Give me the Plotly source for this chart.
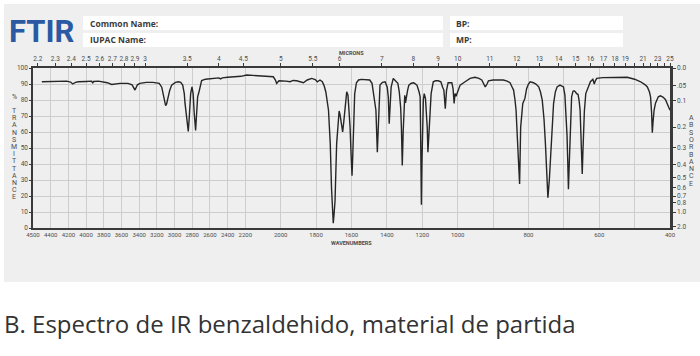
import numpy as np
import plotly.graph_objects as go

# ---------------- data ----------------
WAVENUMBER = [4500, 4400, 4300, 4219, 4175, 4151, 4120, 4088, 4000, 3937, 3925, 3915, 3860, 3809, 3760, 3711, 3660, 3617,
              3526, 3480, 3447, 3420, 3391, 3320, 3244, 3173, 3145, 3128, 3110, 3101, 3090, 3080, 3071, 3055, 3033, 2990,
              2958, 2930, 2908, 2890, 2882, 2868, 2855, 2845, 2835, 2818, 2803, 2790, 2778, 2762, 2750, 2739, 2724, 2710,
              2694, 2650, 2563, 2500, 2480, 2460, 2400, 2337, 2250, 2192, 2100, 2042, 2030, 2023, 2010, 1994, 1970, 1947,
              1930, 1910, 1890, 1872, 1850, 1825, 1805, 1793, 1778, 1765, 1755, 1745, 1730, 1720, 1713, 1706, 1703, 1699,
              1693, 1684, 1675, 1670, 1665, 1658, 1650, 1644, 1638, 1632, 1627, 1620, 1614, 1608, 1602, 1597, 1593, 1588,
              1582, 1572, 1560, 1544, 1520, 1497, 1484, 1470, 1462, 1454, 1448, 1444, 1439, 1425, 1410, 1398, 1392, 1387,
              1382, 1376, 1364, 1355, 1350, 1338, 1330, 1322, 1318, 1313, 1308, 1303, 1299, 1295, 1290, 1283, 1276, 1262,
              1248, 1230, 1218, 1212, 1210, 1207, 1205, 1202, 1198, 1194, 1189, 1182, 1176, 1172, 1168, 1164, 1160, 1150,
              1138, 1125, 1110, 1095, 1085, 1078, 1070, 1063, 1054, 1040, 1033, 1026, 1020, 1015, 1009, 1002, 993, 979,
              965, 951, 940, 932, 927, 922, 917, 913, 900, 880, 871, 860, 852, 846, 842, 838, 835, 831, 828, 825, 822, 816,
              810, 805, 800, 795, 786, 778, 771, 766, 761, 756, 752, 748, 745, 741, 738, 733, 729, 724, 719, 711, 701, 697,
              694, 691, 689, 687, 685, 683, 680, 678, 674, 671, 667, 664, 660, 657, 654, 651, 648, 646, 645, 642, 638, 632,
              625, 618, 616, 614, 611, 607, 590, 568, 540, 521, 500, 483, 470, 464, 458, 455, 452, 450, 448, 445, 441, 438,
              433, 427, 420, 413, 406, 400]
TRANSMITTANCE = [91.4, 91.6, 91.8, 91.8, 91.2, 90.0, 91.0, 91.4, 91.6, 91.8, 90.5, 91.6, 91.8, 91.4, 90.8, 89.7, 90.2, 90.4,
                 90.4, 89.5, 86.2, 89.5, 90.4, 91.0, 91.0, 90.4, 88.0, 84.1, 79.0, 76.5, 77.5, 80.5, 81.0, 86.0, 89.3, 91.0,
                 91.4, 91.0, 89.3, 84.0, 78.0, 72.0, 63.0, 60.4, 68.0, 84.0, 88.2, 84.0, 72.0, 61.0, 72.0, 82.0, 85.0, 89.0,
                 92.1, 93.0, 93.5, 93.8, 93.2, 93.8, 94.2, 94.5, 94.8, 95.6, 95.0, 94.5, 92.5, 90.4, 92.0, 92.0, 91.8, 91.4,
                 92.2, 92.0, 91.5, 90.8, 92.5, 93.5, 92.8, 91.4, 92.5, 91.5, 89.0, 85.0, 73.6, 52.6, 25.0, 8.0, 3.0, 8.0,
                 17.0, 52.6, 71.5, 73.1, 71.0, 65.0, 60.0, 66.0, 75.0, 83.0, 85.1, 83.0, 75.0, 63.0, 45.0, 32.7, 45.0, 70.0,
                 84.0, 90.8, 92.5, 92.9, 92.8, 92.5, 90.4, 80.0, 73.6, 47.4, 70.0, 82.0, 89.3, 91.0, 91.4, 88.0, 82.0, 65.2,
                 80.0, 88.0, 93.5, 92.5, 91.4, 90.4, 85.1, 75.0, 63.0, 39.0, 60.0, 73.6, 83.0, 78.2, 82.0, 86.0, 89.3, 90.5,
                 90.8, 89.3, 85.0, 82.0, 65.0, 42.0, 14.5, 40.0, 65.0, 80.0, 84.0, 81.0, 70.0, 63.0, 47.4, 58.0, 67.3, 84.0,
                 91.4, 92.0, 92.0, 91.4, 88.0, 86.2, 74.6, 86.0, 90.8, 91.0, 90.8, 87.0, 77.8, 84.0, 82.4, 84.5, 89.3, 91.4,
                 93.5, 94.2, 93.5, 92.5, 90.0, 88.2, 90.0, 92.0, 92.5, 92.5, 92.5, 91.8, 90.8, 88.0, 86.2, 80.0, 73.6, 55.0,
                 38.0, 27.5, 63.0, 77.8, 81.0, 87.2, 90.0, 91.4, 90.8, 89.8, 88.2, 85.0, 79.9, 68.0, 52.6, 33.0, 19.0, 30.0,
                 42.0, 62.0, 77.8, 85.0, 88.2, 89.3, 88.2, 83.0, 73.6, 58.0, 42.0, 24.3, 38.0, 52.6, 70.0, 82.0, 85.5, 85.8,
                 85.0, 84.0, 83.6, 80.0, 73.6, 55.0, 33.8, 48.0, 59.0, 73.0, 84.0, 88.0, 91.4, 92.9, 91.5, 90.0, 92.0, 93.5,
                 94.0, 94.2, 94.2, 94.2, 93.0, 91.4, 89.5, 88.2, 85.0, 82.0, 72.0, 59.5, 66.0, 73.6, 78.0, 80.0, 82.0, 82.6,
                 81.8, 80.3, 77.0, 73.6]

# bottom wavenumber labels (first label sits on the left frame edge, as printed on the form)
WN_TICK_POS = [4600, 4400, 4200, 4000, 3800, 3600, 3400, 3200, 3000, 2800, 2600, 2400, 2200,
               2000, 1800, 1600, 1400, 1200, 1000, 900, 800, 700, 600, 500, 400]
WN_TICK_TEXT = ["4500", "4400", "4200", "4000", "3800", "3600", "3400", "3200", "3000", "2800", "2600", "2400", "2200",
                "2000", "1800", "1600", "1400", "1200", "1000", "", "800", "", "600", "", "400"]
MICRON_TICKS = [2.2, 2.3, 2.4, 2.5, 2.6, 2.7, 2.8, 2.9, 3, 3.5, 4, 4.5, 5, 5.5, 6, 7, 8, 9, 10, 11, 12, 13, 14,
                15, 16, 17, 18, 19, 20, 21, 22, 23, 24, 25]
MICRON_TEXT = ["2.2", "2.3", "2.4", "2.5", "2.6", "2.7", "2.8", "2.9", "3", "3.5", "4", "4.5", "5", "5.5", "6", "7", "8",
               "9", "10", "11", "12", "13", "14", "15", "16", "17", "18", "19", "", "21", "", "23", "", "25"]
ABS_TICKS = [0.0, 0.05, 0.1, 0.2, 0.3, 0.4, 0.5, 0.6, 0.7, 0.8, 1.0, 2.0]
ABS_TEXT = ["0.0", ".05", "0.1", "0.2", "0.3", "0.4", "0.5", "0.6", "0.7", "0.8", "1.0", "2.0"]
T_TICKS = list(range(0, 101, 10))


# piecewise-linear wavenumber scale of the FTIR form (3 equal-width segments)
def wn_scale(w):
    w = np.asarray(w, dtype=float)
    return np.where(w >= 2200, (4600 - w) / 2400,
                    np.where(w >= 1000, 1 + (2200 - w) / 1200, 2 + (1000 - w) / 600))


# ---------------- geometry helpers (pixel -> paper) ----------------
W, H = 700, 356
L, R, T, B = 33, 30, 68, 128
PW, PH = W - L - R, H - T - B


def px(x):
    return (x - L) / PW


def py(y):
    return (H - B - y) / PH


GREY_BG = "#efefef"
GRID = "#cdcdcd"
AX = "#3a3a3a"
LBL = "#4d4d4d"
TICKF = "Roboto, sans-serif"

fig = go.Figure()
fig.add_trace(go.Scatter(x=wn_scale(WAVENUMBER), y=TRANSMITTANCE, mode="lines",
                         line=dict(color="#262626", width=1.4), xaxis="x", yaxis="y",
                         showlegend=False, hoverinfo="skip"))
# invisible helper trace to activate secondary axes
fig.add_trace(go.Scatter(x=[0, 3], y=[0, 100], mode="markers", marker=dict(opacity=0),
                         xaxis="x2", yaxis="y2", showlegend=False, hoverinfo="skip"))

fig.update_layout(
    width=W, height=H, autosize=False,
    margin=dict(l=L, r=R, t=T, b=B, pad=0),
    paper_bgcolor="white", plot_bgcolor=GREY_BG,
    xaxis=dict(range=[0, 3], tickmode="array", tickvals=wn_scale(WN_TICK_POS), ticktext=WN_TICK_TEXT,
               tickangle=0, showgrid=True, gridcolor=GRID, gridwidth=1, zeroline=False,
               showline=True, linecolor=AX, linewidth=1.5, ticks="", ticklen=0,
               tickfont=dict(family=TICKF, size=6, color=LBL), fixedrange=True),
    xaxis2=dict(range=[0, 3], overlaying="x", side="top", tickmode="array",
                tickvals=wn_scale([10000 / m for m in MICRON_TICKS]), ticktext=MICRON_TEXT,
                tickangle=0, showgrid=False, zeroline=False, showline=True, linecolor=AX, linewidth=1.5,
                ticks="outside", ticklen=3, tickcolor=AX, tickwidth=1,
                tickfont=dict(family=TICKF, size=6.5, color=LBL), fixedrange=True),
    yaxis=dict(range=[0, 100], tickmode="array", tickvals=T_TICKS, ticktext=[str(v) for v in T_TICKS],
               showgrid=True, gridcolor=GRID, gridwidth=1, zeroline=False,
               showline=True, linecolor=AX, linewidth=1.5, ticks="outside", ticklen=2, tickcolor=AX,
               tickfont=dict(family=TICKF, size=6.5, color=LBL), fixedrange=True),
    yaxis2=dict(range=[0, 100], overlaying="y", side="right", tickmode="array",
                tickvals=[100 * 10 ** (-a) for a in ABS_TICKS], ticktext=ABS_TEXT,
                showgrid=False, zeroline=False, showline=True, linecolor=AX, linewidth=2.5,
                ticks="outside", ticklen=3, tickcolor=AX, tickwidth=1.2,
                tickfont=dict(family=TICKF, size=6.5, color=LBL), fixedrange=True),
)

shapes = [
    # grey form panel
    dict(type="rect", xref="paper", yref="paper", x0=px(4), x1=px(700), y0=py(282), y1=py(4),
         fillcolor=GREY_BG, line=dict(width=0), layer="below"),
]
for (x0, y0, x1, y1) in [(83, 16, 443, 30), (83, 33, 443, 47), (450, 16, 623, 30), (450, 33, 623, 47)]:
    shapes.append(dict(type="rect", xref="paper", yref="paper", x0=px(x0), x1=px(x1), y0=py(y1), y1=py(y0),
                       fillcolor="white", line=dict(width=0), layer="below"))
fig.update_layout(shapes=shapes)

ann = []
ann.append(dict(text="<b>FTIR</b>", x=px(42), y=py(32), xref="paper", yref="paper", showarrow=False,
                xanchor="center", yanchor="middle",
                font=dict(family="Roboto, sans-serif", size=31, color="#2b59a3")))
for txt, x, y in [("Common Name:", 88, 23), ("IUPAC Name:", 88, 40), ("BP:", 454, 23), ("MP:", 454, 40)]:
    ann.append(dict(text="<b>" + txt + "</b>", x=px(x), y=py(y), xref="paper", yref="paper", showarrow=False,
                    xanchor="left", yanchor="middle",
                    font=dict(family="Open Sans, sans-serif", size=8.5, color="#3a3a3a")))
ann.append(dict(text="<b>MICRONS</b>", x=px(352), y=py(53), xref="paper", yref="paper", showarrow=False,
                xanchor="center", yanchor="middle", font=dict(family=TICKF, size=5.5, color=LBL)))
ann.append(dict(text="<b>WAVENUMBERS</b>", x=px(352), y=py(243), xref="paper", yref="paper", showarrow=False,
                xanchor="center", yanchor="middle", font=dict(family=TICKF, size=5.5, color=LBL)))
# stacked axis titles
ann.append(dict(text="%", x=px(14), y=py(97), xref="paper", yref="paper", showarrow=False,
                xanchor="center", yanchor="middle", font=dict(family=TICKF, size=7, color=LBL)))
for i, ch in enumerate("TRANSMITTANCE"):
    ann.append(dict(text=ch, x=px(14), y=py(111 + i * 7.2), xref="paper", yref="paper", showarrow=False,
                    xanchor="center", yanchor="middle", font=dict(family=TICKF, size=7, color=LBL)))
for i, ch in enumerate("ABSORBANCE"):
    ann.append(dict(text=ch, x=px(691), y=py(118 + i * 7.3), xref="paper", yref="paper", showarrow=False,
                    xanchor="center", yanchor="middle", font=dict(family=TICKF, size=7, color=LBL)))
ann.append(dict(text="B. Espectro de IR benzaldehido, material de partida", x=px(2), y=py(323),
                xref="paper", yref="paper", showarrow=False, xanchor="left", yanchor="middle",
                font=dict(family="Open Sans, sans-serif", size=24, color="#333333")))
fig.update_layout(annotations=ann)

fig.write_html("out.html")
